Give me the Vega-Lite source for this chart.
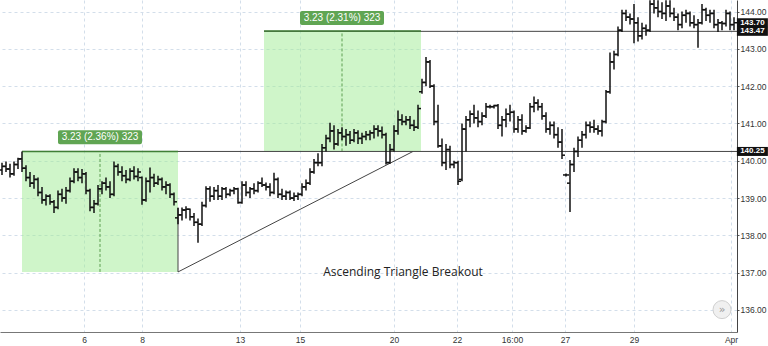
{
 "$schema": "https://vega.github.io/schema/vega-lite/v6.json",
 "width": 737, "height": 332,
 "autosize": {"type": "none"},
 "padding": {"left": 0, "top": 0, "right": 31, "bottom": 14},
 "background": "white",
 "config": {"view": {"stroke": null}, "axis": {"labelFont": "Liberation Sans, Arial, sans-serif"}},
 "datasets": {
  "bars": [
   {"t":0,"o":139.75,"h":139.95,"l":139.62,"c":139.85},
   {"t":1,"o":139.85,"h":139.98,"l":139.70,"c":139.78},
   {"t":2,"o":139.78,"h":139.92,"l":139.55,"c":139.65},
   {"t":3,"o":139.65,"h":139.98,"l":139.60,"c":139.90},
   {"t":4,"o":139.90,"h":140.08,"l":139.78,"c":140.05},
   {"t":5,"o":140.05,"h":140.25,"l":139.70,"c":139.80},
   {"t":6,"o":139.80,"h":139.88,"l":139.45,"c":139.55},
   {"t":7,"o":139.55,"h":139.70,"l":139.30,"c":139.40},
   {"t":8,"o":139.40,"h":139.62,"l":139.25,"c":139.50},
   {"t":9,"o":139.50,"h":139.55,"l":139.05,"c":139.15},
   {"t":10,"o":139.15,"h":139.30,"l":138.85,"c":138.95},
   {"t":11,"o":138.95,"h":139.10,"l":138.80,"c":139.05},
   {"t":12,"o":139.05,"h":139.10,"l":138.82,"c":138.90},
   {"t":13,"o":138.90,"h":138.95,"l":138.60,"c":138.75},
   {"t":14,"o":138.75,"h":139.20,"l":138.70,"c":139.10},
   {"t":15,"o":139.10,"h":139.25,"l":138.90,"c":139.00},
   {"t":16,"o":139.00,"h":139.30,"l":138.85,"c":139.20},
   {"t":17,"o":139.20,"h":139.55,"l":139.15,"c":139.45},
   {"t":18,"o":139.45,"h":139.80,"l":139.40,"c":139.70},
   {"t":19,"o":139.70,"h":139.80,"l":139.45,"c":139.55},
   {"t":20,"o":139.55,"h":139.78,"l":139.40,"c":139.65},
   {"t":21,"o":139.65,"h":139.70,"l":139.10,"c":139.20},
   {"t":22,"o":139.20,"h":139.25,"l":138.65,"c":138.75},
   {"t":23,"o":138.75,"h":138.95,"l":138.60,"c":138.85},
   {"t":24,"o":138.85,"h":139.35,"l":138.80,"c":139.25},
   {"t":25,"o":139.25,"h":139.45,"l":139.10,"c":139.40},
   {"t":26,"o":139.40,"h":139.55,"l":139.20,"c":139.30},
   {"t":27,"o":139.30,"h":139.45,"l":139.00,"c":139.10},
   {"t":28,"o":139.10,"h":139.98,"l":139.05,"c":139.85},
   {"t":29,"o":139.85,"h":139.92,"l":139.60,"c":139.70},
   {"t":30,"o":139.70,"h":139.85,"l":139.45,"c":139.60},
   {"t":31,"o":139.60,"h":139.75,"l":139.40,"c":139.50},
   {"t":32,"o":139.50,"h":139.80,"l":139.45,"c":139.72},
   {"t":33,"o":139.72,"h":139.85,"l":139.50,"c":139.58},
   {"t":34,"o":139.58,"h":139.80,"l":139.45,"c":139.70},
   {"t":35,"o":139.55,"h":139.58,"l":138.82,"c":138.95},
   {"t":36,"o":138.95,"h":139.55,"l":138.90,"c":139.45},
   {"t":37,"o":139.45,"h":139.82,"l":139.15,"c":139.55},
   {"t":38,"o":139.55,"h":139.65,"l":139.30,"c":139.40},
   {"t":39,"o":139.40,"h":139.60,"l":139.35,"c":139.50},
   {"t":40,"o":139.50,"h":139.55,"l":139.20,"c":139.30},
   {"t":41,"o":139.30,"h":139.45,"l":139.10,"c":139.35},
   {"t":42,"o":139.35,"h":139.40,"l":139.00,"c":139.10},
   {"t":43,"o":139.10,"h":139.15,"l":138.80,"c":138.90},
   {"t":44,"o":138.47,"h":138.74,"l":138.30,"c":138.55},
   {"t":45,"o":138.55,"h":138.75,"l":138.40,"c":138.68},
   {"t":46,"o":138.68,"h":138.78,"l":138.45,"c":138.70},
   {"t":47,"o":138.70,"h":138.72,"l":138.40,"c":138.50},
   {"t":48,"o":138.50,"h":138.60,"l":138.25,"c":138.35},
   {"t":49,"o":138.35,"h":138.45,"l":137.80,"c":138.30},
   {"t":50,"o":138.30,"h":138.90,"l":138.25,"c":138.80},
   {"t":51,"o":138.80,"h":139.32,"l":138.75,"c":139.25},
   {"t":52,"o":139.25,"h":139.32,"l":138.90,"c":139.05},
   {"t":53,"o":139.05,"h":139.30,"l":138.95,"c":139.20},
   {"t":54,"o":139.20,"h":139.35,"l":138.95,"c":139.05},
   {"t":55,"o":139.05,"h":139.30,"l":138.95,"c":139.25},
   {"t":56,"o":139.25,"h":139.30,"l":139.00,"c":139.10},
   {"t":57,"o":139.10,"h":139.25,"l":139.05,"c":139.20},
   {"t":58,"o":139.20,"h":139.30,"l":139.10,"c":139.25},
   {"t":59,"o":139.25,"h":139.28,"l":138.85,"c":138.88},
   {"t":60,"o":138.88,"h":139.45,"l":138.85,"c":139.35},
   {"t":61,"o":139.35,"h":139.45,"l":139.05,"c":139.15},
   {"t":62,"o":139.15,"h":139.30,"l":139.00,"c":139.25},
   {"t":63,"o":139.25,"h":139.40,"l":139.10,"c":139.20},
   {"t":64,"o":139.20,"h":139.45,"l":139.15,"c":139.40},
   {"t":65,"o":139.40,"h":139.55,"l":139.30,"c":139.35},
   {"t":66,"o":139.35,"h":139.42,"l":139.20,"c":139.30},
   {"t":67,"o":139.30,"h":139.40,"l":139.05,"c":139.15},
   {"t":68,"o":139.15,"h":139.68,"l":139.10,"c":139.50},
   {"t":69,"o":139.50,"h":139.55,"l":139.00,"c":139.10},
   {"t":70,"o":139.10,"h":139.25,"l":138.95,"c":139.05},
   {"t":71,"o":139.05,"h":139.20,"l":138.95,"c":139.15},
   {"t":72,"o":139.15,"h":139.20,"l":138.95,"c":139.00},
   {"t":73,"o":139.00,"h":139.15,"l":138.92,"c":139.05},
   {"t":74,"o":139.05,"h":139.15,"l":138.95,"c":139.10},
   {"t":75,"o":139.10,"h":139.40,"l":139.05,"c":139.30},
   {"t":76,"o":139.30,"h":139.50,"l":139.20,"c":139.40},
   {"t":77,"o":139.40,"h":139.80,"l":139.35,"c":139.70},
   {"t":78,"o":139.70,"h":140.05,"l":139.65,"c":139.95},
   {"t":79,"o":139.95,"h":140.20,"l":139.85,"c":139.95},
   {"t":80,"o":139.95,"h":140.45,"l":139.85,"c":140.35},
   {"t":81,"o":140.35,"h":140.70,"l":140.25,"c":140.60},
   {"t":82,"o":140.60,"h":141.02,"l":140.50,"c":140.80},
   {"t":83,"o":140.80,"h":140.95,"l":140.30,"c":140.45},
   {"t":84,"o":140.45,"h":140.85,"l":140.40,"c":140.75},
   {"t":85,"o":140.75,"h":140.90,"l":140.55,"c":140.65},
   {"t":86,"o":140.65,"h":140.85,"l":140.40,"c":140.70},
   {"t":87,"o":140.70,"h":140.80,"l":140.45,"c":140.55},
   {"t":88,"o":140.55,"h":140.85,"l":140.50,"c":140.75},
   {"t":89,"o":140.75,"h":140.82,"l":140.45,"c":140.60},
   {"t":90,"o":140.60,"h":140.75,"l":140.45,"c":140.65},
   {"t":91,"o":140.65,"h":140.80,"l":140.55,"c":140.70},
   {"t":92,"o":140.70,"h":140.82,"l":140.55,"c":140.75},
   {"t":93,"o":140.75,"h":140.95,"l":140.60,"c":140.85},
   {"t":94,"o":140.85,"h":140.95,"l":140.65,"c":140.80},
   {"t":95,"o":140.80,"h":140.92,"l":140.60,"c":140.70},
   {"t":96,"o":140.70,"h":140.75,"l":139.90,"c":139.95},
   {"t":97,"o":139.95,"h":140.45,"l":139.92,"c":140.30},
   {"t":98,"o":140.30,"h":140.95,"l":140.25,"c":140.80},
   {"t":99,"o":140.80,"h":141.35,"l":140.70,"c":141.10},
   {"t":100,"o":141.10,"h":141.25,"l":140.95,"c":141.05},
   {"t":101,"o":141.05,"h":141.20,"l":140.95,"c":141.10},
   {"t":102,"o":141.10,"h":141.20,"l":140.85,"c":140.95},
   {"t":103,"o":140.95,"h":141.10,"l":140.80,"c":140.90},
   {"t":104,"o":140.90,"h":141.50,"l":140.85,"c":141.40},
   {"t":105,"o":141.85,"h":142.20,"l":141.80,"c":142.10},
   {"t":106,"o":142.10,"h":142.78,"l":142.00,"c":142.65},
   {"t":107,"o":142.65,"h":142.70,"l":141.95,"c":142.00},
   {"t":108,"o":142.00,"h":142.05,"l":140.95,"c":141.05},
   {"t":109,"o":141.05,"h":141.50,"l":140.35,"c":140.40},
   {"t":110,"o":140.40,"h":140.60,"l":139.85,"c":139.95},
   {"t":111,"o":139.95,"h":140.45,"l":139.75,"c":140.30},
   {"t":112,"o":140.30,"h":140.40,"l":139.80,"c":139.90},
   {"t":113,"o":139.90,"h":140.00,"l":139.80,"c":139.95},
   {"t":114,"o":139.95,"h":140.00,"l":139.35,"c":139.45},
   {"t":115,"o":139.50,"h":141.00,"l":139.45,"c":140.85},
   {"t":116,"o":140.85,"h":141.20,"l":140.25,"c":141.10},
   {"t":117,"o":141.10,"h":141.35,"l":140.90,"c":141.25},
   {"t":118,"o":141.25,"h":141.50,"l":141.00,"c":141.15},
   {"t":119,"o":141.15,"h":141.35,"l":140.90,"c":141.05},
   {"t":120,"o":141.05,"h":141.30,"l":140.95,"c":141.20},
   {"t":121,"o":141.20,"h":141.55,"l":141.15,"c":141.45},
   {"t":122,"o":141.45,"h":141.50,"l":141.40,"c":141.45},
   {"t":123,"o":141.45,"h":141.50,"l":141.40,"c":141.48},
   {"t":124,"o":141.48,"h":141.52,"l":140.85,"c":140.95},
   {"t":125,"o":140.95,"h":141.20,"l":140.65,"c":141.10},
   {"t":126,"o":141.10,"h":141.40,"l":140.90,"c":141.25},
   {"t":127,"o":141.25,"h":141.50,"l":141.05,"c":141.30},
   {"t":128,"o":141.30,"h":141.35,"l":140.75,"c":140.85},
   {"t":129,"o":140.85,"h":141.20,"l":140.75,"c":141.10},
   {"t":130,"o":141.10,"h":141.25,"l":140.70,"c":140.80},
   {"t":131,"o":140.80,"h":140.95,"l":140.75,"c":140.88},
   {"t":132,"o":140.88,"h":141.55,"l":140.85,"c":141.45},
   {"t":133,"o":141.45,"h":141.72,"l":141.30,"c":141.55},
   {"t":134,"o":141.55,"h":141.65,"l":141.35,"c":141.45},
   {"t":135,"o":141.45,"h":141.55,"l":141.10,"c":141.20},
   {"t":136,"o":141.20,"h":141.30,"l":140.75,"c":140.85},
   {"t":137,"o":140.85,"h":141.05,"l":140.70,"c":140.95},
   {"t":138,"o":140.95,"h":141.05,"l":140.60,"c":140.70},
   {"t":139,"o":140.70,"h":140.90,"l":140.35,"c":140.50},
   {"t":140,"o":140.50,"h":140.85,"l":140.05,"c":140.15},
   {"t":141,"o":139.62,"h":139.66,"l":139.58,"c":139.62},
   {"t":142,"o":139.40,"h":140.02,"l":138.63,"c":139.90},
   {"t":143,"o":139.90,"h":140.35,"l":139.70,"c":140.25},
   {"t":144,"o":140.25,"h":140.65,"l":140.10,"c":140.55},
   {"t":145,"o":140.55,"h":140.80,"l":140.35,"c":140.70},
   {"t":146,"o":140.70,"h":141.05,"l":140.60,"c":140.95},
   {"t":147,"o":140.95,"h":141.05,"l":140.75,"c":140.90},
   {"t":148,"o":140.90,"h":141.10,"l":140.75,"c":140.85},
   {"t":149,"o":140.85,"h":140.95,"l":140.70,"c":140.80},
   {"t":150,"o":140.80,"h":141.10,"l":140.65,"c":141.05},
   {"t":151,"o":141.05,"h":141.90,"l":141.00,"c":141.85},
   {"t":152,"o":141.85,"h":142.90,"l":141.80,"c":142.65},
   {"t":153,"o":142.65,"h":142.95,"l":142.45,"c":142.85},
   {"t":154,"o":142.85,"h":143.60,"l":142.80,"c":143.50},
   {"t":155,"o":143.50,"h":144.05,"l":143.45,"c":143.95},
   {"t":156,"o":143.95,"h":144.05,"l":143.75,"c":143.85},
   {"t":157,"o":143.85,"h":143.95,"l":143.65,"c":143.80},
   {"t":158,"o":143.80,"h":144.20,"l":143.15,"c":143.70},
   {"t":159,"o":143.70,"h":143.85,"l":143.20,"c":143.35},
   {"t":160,"o":143.35,"h":143.70,"l":143.25,"c":143.55},
   {"t":161,"o":143.55,"h":143.65,"l":143.35,"c":143.50},
   {"t":162,"o":143.50,"h":144.30,"l":143.45,"c":144.20},
   {"t":163,"o":144.20,"h":144.35,"l":143.95,"c":144.10},
   {"t":164,"o":144.10,"h":144.30,"l":143.85,"c":144.00},
   {"t":165,"o":144.00,"h":144.25,"l":143.80,"c":143.95},
   {"t":166,"o":143.95,"h":144.30,"l":143.75,"c":144.15},
   {"t":167,"o":144.15,"h":144.30,"l":143.85,"c":143.95},
   {"t":168,"o":143.95,"h":144.10,"l":143.75,"c":143.85},
   {"t":169,"o":143.85,"h":143.95,"l":143.50,"c":143.65},
   {"t":170,"o":143.65,"h":144.00,"l":143.55,"c":143.90},
   {"t":171,"o":143.90,"h":144.05,"l":143.70,"c":143.95},
   {"t":172,"o":143.95,"h":144.00,"l":143.60,"c":143.70},
   {"t":173,"o":143.70,"h":143.90,"l":143.55,"c":143.65},
   {"t":174,"o":143.65,"h":143.80,"l":143.03,"c":143.70},
   {"t":175,"o":143.70,"h":144.20,"l":143.65,"c":144.05},
   {"t":176,"o":144.05,"h":144.10,"l":143.75,"c":143.90},
   {"t":177,"o":143.90,"h":144.05,"l":143.70,"c":143.95},
   {"t":178,"o":143.95,"h":144.05,"l":143.55,"c":143.65},
   {"t":179,"o":143.65,"h":143.80,"l":143.45,"c":143.70},
   {"t":180,"o":143.70,"h":143.75,"l":143.50,"c":143.68},
   {"t":181,"o":143.68,"h":144.05,"l":143.60,"c":143.95},
   {"t":182,"o":143.95,"h":144.00,"l":143.50,"c":143.65},
   {"t":183,"o":143.65,"h":143.85,"l":143.50,"c":143.70}
  ],
  "boxes": [
   {"t1":5,"t2":44,"p1":137.02,"p2":140.25,"mid":24.5,"lp":140.63,"label":"3.23 (2.36%) 323"},
   {"t1":65.5,"t2":104.75,"p1":140.25,"p2":143.48,"mid":85,"lp":143.83,"label":"3.23 (2.31%) 323"}
  ],
  "segments": [
   {"id":"level 140.25","t1":5,"p1":140.25,"t2":183.75,"p2":140.25},
   {"id":"level 143.47","t1":65.5,"p1":143.47,"t2":183.75,"p2":143.47},
   {"id":"triangle base","t1":44,"p1":137.02,"t2":102.75,"p2":140.25},
   {"id":"triangle side","t1":44,"p1":137.02,"t2":44,"p2":138.74}
  ],
  "badges": [
   {"p":143.70,"lab":"143.70"},
   {"p":143.47,"lab":"143.47"},
   {"p":140.25,"lab":"140.25"}
  ]
 },
 "layer": [
  {
   "data": {"name": "boxes"},
   "mark": {"type": "rect", "color": "#9fec94", "opacity": 0.5},
   "encoding": {
    "x": {"field": "t1", "type": "quantitative", "scale": {"domain": [-0.5, 183.75], "nice": false, "zero": false},
     "axis": {"orient": "bottom", "values": [20.5, 35, 59.5, 74.5, 98, 113.75, 127.5, 140.75, 158, 182.25],
      "labelExpr": "datum.value==20.5?'6':datum.value==35?'8':datum.value==59.5?'13':datum.value==74.5?'15':datum.value==98?'20':datum.value==113.75?'22':datum.value==127.5?'16:00':datum.value==140.75?'27':datum.value==158?'29':'Apr'",
      "grid": true, "gridDash": [3, 3], "gridColor": "#d3deea", "ticks": false, "domainColor": "#777", "labelColor": "#333", "labelFontSize": 8.5, "labelPadding": 3, "labelFlush": false, "labelOverlap": false, "title": null}},
    "x2": {"field": "t2"},
    "y": {"field": "p1", "type": "quantitative", "scale": {"domain": [135.41, 144.31], "nice": false, "zero": false},
     "axis": {"orient": "right", "values": [136, 137, 138, 139, 140, 141, 142, 143, 144], "format": ".2f", "grid": true, "gridDash": [3, 3], "gridColor": "#d3deea", "tickSize": 2, "tickColor": "#555", "domainColor": "#444", "labelColor": "#333", "labelFontSize": 8.5, "labelPadding": 1, "labelOverlap": false, "labelFlush": false, "title": null}},
    "y2": {"field": "p2"}
   }
  },
  {
   "data": {"name": "boxes"},
   "mark": {"type": "rule", "color": "#5c9e50", "strokeDash": [3, 2], "strokeWidth": 1},
   "encoding": {
    "x": {"field": "mid", "type": "quantitative", "scale": {"domain": [-0.5, 183.75], "nice": false, "zero": false}},
    "y": {"field": "p1", "type": "quantitative", "scale": {"domain": [135.41, 144.31], "nice": false, "zero": false}},
    "y2": {"field": "p2"}
   }
  },
  {
   "data": {"name": "segments"},
   "mark": {"type": "rule", "color": "#444", "strokeWidth": 1},
   "encoding": {
    "x": {"field": "t1", "type": "quantitative", "scale": {"domain": [-0.5, 183.75], "nice": false, "zero": false}},
    "x2": {"field": "t2"},
    "y": {"field": "p1", "type": "quantitative", "scale": {"domain": [135.41, 144.31], "nice": false, "zero": false}},
    "y2": {"field": "p2"}
   }
  },
  {
   "data": {"name": "boxes"},
   "mark": {"type": "rule", "color": "#3f7f36", "strokeWidth": 1.5},
   "encoding": {
    "x": {"field": "t1", "type": "quantitative", "scale": {"domain": [-0.5, 183.75], "nice": false, "zero": false}},
    "x2": {"field": "t2"},
    "y": {"field": "p2", "type": "quantitative", "scale": {"domain": [135.41, 144.31], "nice": false, "zero": false}}
   }
  },
  {
   "data": {"name": "bars"},
   "mark": {"type": "rule", "color": "#111", "strokeWidth": 1.5},
   "encoding": {
    "x": {"field": "t", "type": "quantitative", "scale": {"domain": [-0.5, 183.75], "nice": false, "zero": false}},
    "y": {"field": "l", "type": "quantitative", "scale": {"domain": [135.41, 144.31], "nice": false, "zero": false}},
    "y2": {"field": "h"}
   }
  },
  {
   "data": {"name": "bars"},
   "mark": {"type": "tick", "orient": "horizontal", "color": "#111", "size": 3, "thickness": 1.5, "xOffset": -1.5, "opacity": 1},
   "encoding": {
    "x": {"field": "t", "type": "quantitative", "scale": {"domain": [-0.5, 183.75], "nice": false, "zero": false}},
    "y": {"field": "o", "type": "quantitative", "scale": {"domain": [135.41, 144.31], "nice": false, "zero": false}}
   }
  },
  {
   "data": {"name": "bars"},
   "mark": {"type": "tick", "orient": "horizontal", "color": "#111", "size": 3, "thickness": 1.5, "xOffset": 1.5, "opacity": 1},
   "encoding": {
    "x": {"field": "t", "type": "quantitative", "scale": {"domain": [-0.5, 183.75], "nice": false, "zero": false}},
    "y": {"field": "c", "type": "quantitative", "scale": {"domain": [135.41, 144.31], "nice": false, "zero": false}}
   }
  },
  {
   "data": {"name": "boxes"},
   "mark": {"type": "tick", "orient": "horizontal", "color": "#60a553", "size": 84, "thickness": 14, "cornerRadius": 2, "opacity": 1},
   "encoding": {
    "x": {"field": "mid", "type": "quantitative", "scale": {"domain": [-0.5, 183.75], "nice": false, "zero": false}},
    "y": {"field": "lp", "type": "quantitative", "scale": {"domain": [135.41, 144.31], "nice": false, "zero": false}}
   }
  },
  {
   "data": {"name": "boxes"},
   "mark": {"type": "text", "color": "white", "font": "Liberation Sans, sans-serif", "fontSize": 10, "align": "center", "baseline": "middle"},
   "encoding": {
    "x": {"field": "mid", "type": "quantitative", "scale": {"domain": [-0.5, 183.75], "nice": false, "zero": false}},
    "y": {"field": "lp", "type": "quantitative", "scale": {"domain": [135.41, 144.31], "nice": false, "zero": false}},
    "text": {"field": "label"}
   }
  },
  {
   "data": {"values": [{"note": "Ascending Triangle Breakout", "t": 100.25, "p": 137.02}]},
   "mark": {"type": "text", "color": "#222", "font": "Open Sans", "fontSize": 12, "align": "center", "baseline": "middle"},
   "encoding": {
    "x": {"field": "t", "type": "quantitative", "scale": {"domain": [-0.5, 183.75], "nice": false, "zero": false}},
    "y": {"field": "p", "type": "quantitative", "scale": {"domain": [135.41, 144.31], "nice": false, "zero": false}},
    "text": {"field": "note"}
   }
  },
  {
   "data": {"values": [{"sym": "»", "t": 180, "p": 136.01}]},
   "mark": {"type": "point", "shape": "circle", "filled": true, "color": "#f0f0f0", "stroke": "#cfcfcf", "strokeWidth": 1, "size": 324, "opacity": 1},
   "encoding": {
    "x": {"field": "t", "type": "quantitative", "scale": {"domain": [-0.5, 183.75], "nice": false, "zero": false}},
    "y": {"field": "p", "type": "quantitative", "scale": {"domain": [135.41, 144.31], "nice": false, "zero": false}}
   }
  },
  {
   "data": {"values": [{"sym": "»", "t": 180, "p": 136.01}]},
   "mark": {"type": "text", "color": "#999", "font": "DejaVu Sans", "fontSize": 11, "align": "center", "baseline": "middle"},
   "encoding": {
    "x": {"field": "t", "type": "quantitative", "scale": {"domain": [-0.5, 183.75], "nice": false, "zero": false}},
    "y": {"field": "p", "type": "quantitative", "scale": {"domain": [135.41, 144.31], "nice": false, "zero": false}},
    "text": {"field": "sym"}
   }
  },
  {
   "data": {"name": "badges"},
   "mark": {"type": "tick", "orient": "horizontal", "color": "#111", "size": 31, "thickness": 9, "opacity": 1},
   "encoding": {
    "x": {"datum": 187.6, "type": "quantitative", "scale": {"domain": [-0.5, 183.75], "nice": false, "zero": false}},
    "y": {"field": "p", "type": "quantitative", "scale": {"domain": [135.41, 144.31], "nice": false, "zero": false}}
   }
  },
  {
   "data": {"name": "badges"},
   "mark": {"type": "text", "color": "white", "font": "Liberation Sans, Arial, sans-serif", "fontWeight": "bold", "fontSize": 8, "align": "center", "baseline": "middle"},
   "encoding": {
    "x": {"datum": 187.6, "type": "quantitative", "scale": {"domain": [-0.5, 183.75], "nice": false, "zero": false}},
    "y": {"field": "p", "type": "quantitative", "scale": {"domain": [135.41, 144.31], "nice": false, "zero": false}},
    "text": {"field": "lab"}
   }
  }
 ]
}
